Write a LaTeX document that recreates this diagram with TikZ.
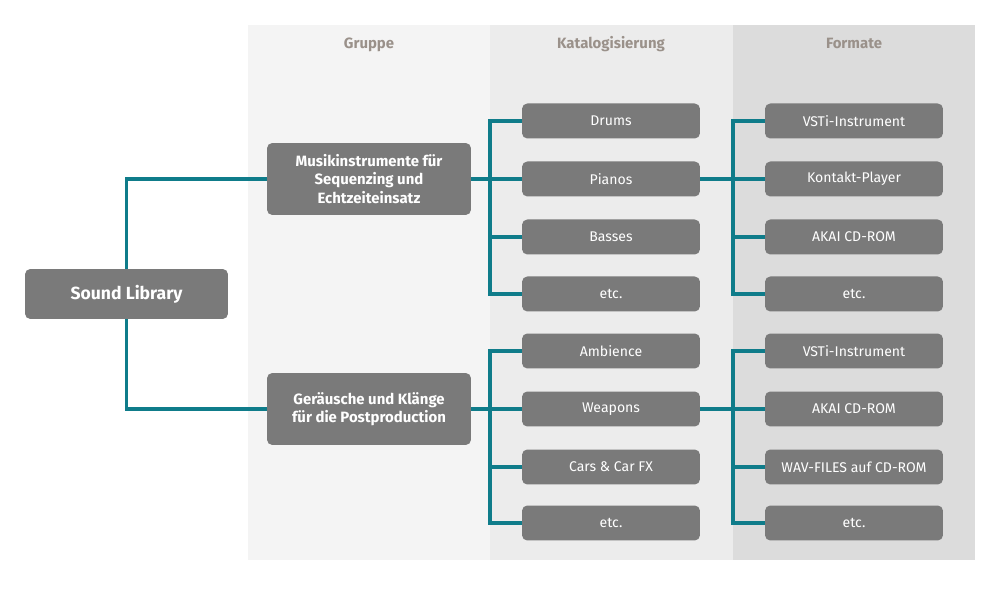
\documentclass[tikz,border=0pt]{standalone}
\usepackage{fontspec}
\setmainfont{Fira Sans}
\definecolor{boxgray}{HTML}{7A7A7A}
\definecolor{teal}{HTML}{0F7C8A}
\definecolor{headgray}{HTML}{9A918A}
\definecolor{colA}{HTML}{F4F4F4}
\definecolor{colB}{HTML}{ECECEC}
\definecolor{colC}{HTML}{DCDCDC}
\tikzset{
  box/.style={fill=boxgray, text=white, rounded corners=3pt, inner sep=0pt,
    minimum width=3.56cm, minimum height=0.7cm, font=\fontsize{8}{10}\selectfont},
  grp/.style={box, minimum width=4.08cm, minimum height=1.44cm, align=center,
    font=\fontsize{8.5}{10.5}\selectfont\bfseries},
  head/.style={text=headgray, anchor=base, font=\fontsize{8.5}{10}\selectfont\bfseries},
  link/.style={teal, line width=1.8pt}
}
\begin{document}
\begin{tikzpicture}[x=0.02cm, y=-0.02cm]
  \useasboundingbox (0,0) rectangle (1000,590);
  %Columns
  \fill[colA] (248,25) rectangle (490,560);
  \fill[colB] (490,25) rectangle (733,560);
  \fill[colC] (733,25) rectangle (975,560);
  \node[head] at (369,49) {Gruppe};
  \node[head] at (611,49) {Katalogisierung};
  \node[head] at (854,49) {Formate};

  %Nodes
  \node[box, minimum width=4.06cm, minimum height=1cm, font=\fontsize{10}{12}\selectfont\bfseries]
    at (126.5,294) (lib) {Sound Library};
  \node[grp] at (369,179) (musik) {Musikinstrumente für\\Sequenzing und\\Echtzeiteinsatz};
  \node[grp] at (369,409) (geraeusch) {Geräusche und Klänge\\für die Postproduction};

  \node[box] at (611,121) (drums)    {Drums};
  \node[box] at (611,179) (pianos)   {Pianos};
  \node[box] at (611,237) (basses)   {Basses};
  \node[box] at (611,294) (etcA)     {etc.};
  \node[box] at (611,351) (ambience) {Ambience};
  \node[box] at (611,409) (weapons)  {Weapons};
  \node[box] at (611,467) (cars)     {Cars \& Car FX};
  \node[box] at (611,523) (etcB)     {etc.};

  \node[box] at (854,121) (vstA)   {VSTi-Instrument};
  \node[box] at (854,179) (kontakt){Kontakt-Player};
  \node[box] at (854,237) (akaiA)  {AKAI CD-ROM};
  \node[box] at (854,294) (etcC)   {etc.};
  \node[box] at (854,351) (vstB)   {VSTi-Instrument};
  \node[box] at (854,409) (akaiB)  {AKAI CD-ROM};
  \node[box] at (854,467) (wav)    {WAV-FILES auf CD-ROM};
  \node[box] at (854,523) (etcD)   {etc.};

  %Spines
  \coordinate (s1) at (490,179);
  \coordinate (s2) at (733,179);
  \coordinate (s3) at (490,409);
  \coordinate (s4) at (733,409);

  %Lines
  \draw[link] (lib.north) |- (musik.west);
  \draw[link] (lib.south) |- (geraeusch.west);
  \draw[link] (musik.east) -- (pianos.west);
  \draw[link] (geraeusch.east) -- (weapons.west);
  \draw[link] (pianos.east) -- (kontakt.west);
  \draw[link] (weapons.east) -- (akaiB.west);
  \draw[link] (drums.west) -| (s1) |- (etcA.west);
  \draw[link] (s1) |- (basses.west);
  \draw[link] (ambience.west) -| (s3) |- (etcB.west);
  \draw[link] (s3) |- (cars.west);
  \draw[link] (vstA.west) -| (s2) |- (etcC.west);
  \draw[link] (s2) |- (akaiA.west);
  \draw[link] (vstB.west) -| (s4) |- (etcD.west);
  \draw[link] (s4) |- (wav.west);
\end{tikzpicture}
\end{document}
